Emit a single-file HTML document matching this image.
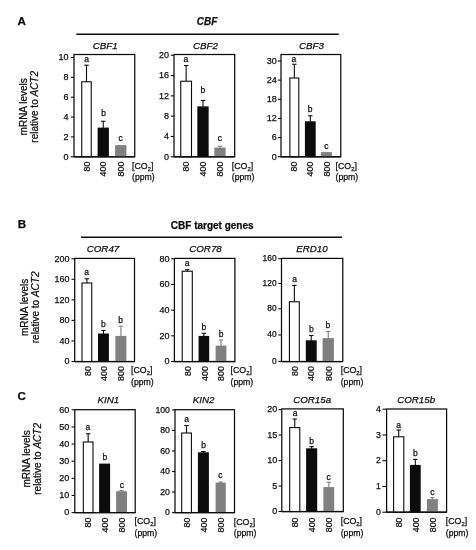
<!DOCTYPE html>
<html><head><meta charset="utf-8"><title>Figure</title>
<style>
html,body{margin:0;padding:0;background:#fff;}
svg{display:block;font-family:"Liberation Sans", Arial, sans-serif;filter:blur(0.35px);}
text{stroke:#141414;stroke-width:0.25px;}
</style></head>
<body>
<svg width="476" height="550" viewBox="0 0 476 550">
<rect x="0" y="0" width="476" height="550" fill="#fff"/>
<text x="17.6" y="25.3" font-size="11.6" font-weight="bold" fill="#0c0c0c">A</text>
<text x="207" y="25.2" font-size="10" font-weight="bold" font-style="italic" text-anchor="middle" fill="#0c0c0c">CBF</text>
<line x1="76.3" y1="34.3" x2="338.8" y2="34.3" stroke="#0c0c0c" stroke-width="1.5"/>
<text transform="translate(27.3,106.8) rotate(-90)" font-size="10" text-anchor="middle" fill="#0c0c0c">mRNA levels</text>
<text transform="translate(38.3,106.8) rotate(-90)" font-size="10" text-anchor="middle" fill="#0c0c0c">relative to <tspan font-style="italic">ACT2</tspan></text>
<rect x="74" y="54.5" width="60.75" height="102.25" fill="none" stroke="#0c0c0c" stroke-width="1.25"/>
<line x1="70.8" y1="156.75" x2="74" y2="156.75" stroke="#0c0c0c" stroke-width="1.1"/>
<text x="68.4" y="159.53" font-size="9.0" text-anchor="end" fill="#0c0c0c">0</text>
<line x1="70.8" y1="136.9" x2="74" y2="136.9" stroke="#0c0c0c" stroke-width="1.1"/>
<text x="68.4" y="139.68" font-size="9.0" text-anchor="end" fill="#0c0c0c">2</text>
<line x1="70.8" y1="117.05" x2="74" y2="117.05" stroke="#0c0c0c" stroke-width="1.1"/>
<text x="68.4" y="119.83" font-size="9.0" text-anchor="end" fill="#0c0c0c">4</text>
<line x1="70.8" y1="97.2" x2="74" y2="97.2" stroke="#0c0c0c" stroke-width="1.1"/>
<text x="68.4" y="99.98" font-size="9.0" text-anchor="end" fill="#0c0c0c">6</text>
<line x1="70.8" y1="77.35" x2="74" y2="77.35" stroke="#0c0c0c" stroke-width="1.1"/>
<text x="68.4" y="80.13" font-size="9.0" text-anchor="end" fill="#0c0c0c">8</text>
<line x1="70.8" y1="57.5" x2="74" y2="57.5" stroke="#0c0c0c" stroke-width="1.1"/>
<text x="68.4" y="60.28" font-size="9.0" text-anchor="end" fill="#0c0c0c">10</text>
<line x1="86.5" y1="81.75" x2="86.5" y2="65.2" stroke="#0c0c0c" stroke-width="1.1"/>
<line x1="84.3" y1="65.2" x2="88.7" y2="65.2" stroke="#0c0c0c" stroke-width="1.1"/>
<rect x="81.75" y="81.75" width="9.5" height="75.0" fill="#fff" stroke="#0c0c0c" stroke-width="1.1"/>
<line x1="103.25" y1="128" x2="103.25" y2="121.25" stroke="#0c0c0c" stroke-width="1.1"/>
<line x1="101.05" y1="121.25" x2="105.45" y2="121.25" stroke="#0c0c0c" stroke-width="1.1"/>
<rect x="97.6" y="127.6" width="11.3" height="29.15" fill="#0c0c0c"/>
<rect x="115.1" y="145.1" width="11.3" height="11.65" fill="#808080"/>
<line x1="74" y1="156.75" x2="134.75" y2="156.75" stroke="#0c0c0c" stroke-width="1.25"/>
<text x="86.5" y="61.5" font-size="8.5" text-anchor="middle" fill="#0c0c0c">a</text>
<text x="103.5" y="116.3" font-size="8.5" text-anchor="middle" fill="#0c0c0c">b</text>
<text x="120.7" y="141.4" font-size="8.5" text-anchor="middle" fill="#0c0c0c">c</text>
<text x="105.3" y="48.6" font-size="9.75" font-style="italic" text-anchor="middle" fill="#0c0c0c">CBF1</text>
<text transform="translate(89.6,161.7) rotate(-90)" font-size="8.8" text-anchor="end" fill="#0c0c0c">80</text>
<text transform="translate(106.35,161.7) rotate(-90)" font-size="8.8" text-anchor="end" fill="#0c0c0c">400</text>
<text transform="translate(123.85,161.7) rotate(-90)" font-size="8.8" text-anchor="end" fill="#0c0c0c">800</text>
<text x="132" y="168.5" font-size="8.8" fill="#0c0c0c">[CO<tspan font-size="5.8" dy="2.1">2</tspan><tspan dy="-2.1">]</tspan></text>
<text x="132" y="180.4" font-size="8.7" fill="#0c0c0c">(ppm)</text>
<rect x="174" y="54.5" width="60.69999999999999" height="102.25" fill="none" stroke="#0c0c0c" stroke-width="1.25"/>
<line x1="170.8" y1="156.75" x2="174" y2="156.75" stroke="#0c0c0c" stroke-width="1.1"/>
<text x="168.9" y="159.53" font-size="9.0" text-anchor="end" fill="#0c0c0c">0</text>
<line x1="170.8" y1="136.46" x2="174" y2="136.46" stroke="#0c0c0c" stroke-width="1.1"/>
<text x="168.9" y="139.24" font-size="9.0" text-anchor="end" fill="#0c0c0c">4</text>
<line x1="170.8" y1="116.17" x2="174" y2="116.17" stroke="#0c0c0c" stroke-width="1.1"/>
<text x="168.9" y="118.95" font-size="9.0" text-anchor="end" fill="#0c0c0c">8</text>
<line x1="170.8" y1="95.88" x2="174" y2="95.88" stroke="#0c0c0c" stroke-width="1.1"/>
<text x="168.9" y="98.66" font-size="9.0" text-anchor="end" fill="#0c0c0c">12</text>
<line x1="170.8" y1="75.59" x2="174" y2="75.59" stroke="#0c0c0c" stroke-width="1.1"/>
<text x="168.9" y="78.37" font-size="9.0" text-anchor="end" fill="#0c0c0c">16</text>
<line x1="170.8" y1="55.3" x2="174" y2="55.3" stroke="#0c0c0c" stroke-width="1.1"/>
<text x="168.9" y="58.08" font-size="9.0" text-anchor="end" fill="#0c0c0c">20</text>
<line x1="186.125" y1="81.25" x2="186.125" y2="65.5" stroke="#0c0c0c" stroke-width="1.1"/>
<line x1="183.925" y1="65.5" x2="188.325" y2="65.5" stroke="#0c0c0c" stroke-width="1.1"/>
<rect x="180.75" y="81.25" width="10.75" height="75.5" fill="#fff" stroke="#0c0c0c" stroke-width="1.1"/>
<line x1="203.0" y1="106.75" x2="203.0" y2="100.5" stroke="#0c0c0c" stroke-width="1.1"/>
<line x1="200.8" y1="100.5" x2="205.2" y2="100.5" stroke="#0c0c0c" stroke-width="1.1"/>
<rect x="197.35" y="106.35" width="11.3" height="50.4" fill="#0c0c0c"/>
<line x1="220.0" y1="148" x2="220.0" y2="146.25" stroke="#808080" stroke-width="1.1"/>
<line x1="217.8" y1="146.25" x2="222.2" y2="146.25" stroke="#808080" stroke-width="1.1"/>
<rect x="214.35" y="147.6" width="11.3" height="9.15" fill="#808080"/>
<line x1="174" y1="156.75" x2="234.7" y2="156.75" stroke="#0c0c0c" stroke-width="1.25"/>
<text x="185.9" y="61.8" font-size="8.5" text-anchor="middle" fill="#0c0c0c">a</text>
<text x="202.9" y="92.6" font-size="8.5" text-anchor="middle" fill="#0c0c0c">b</text>
<text x="219.9" y="141.4" font-size="8.5" text-anchor="middle" fill="#0c0c0c">c</text>
<text x="205.5" y="49" font-size="9.75" font-style="italic" text-anchor="middle" fill="#0c0c0c">CBF2</text>
<text transform="translate(189.225,161.7) rotate(-90)" font-size="8.8" text-anchor="end" fill="#0c0c0c">80</text>
<text transform="translate(206.1,161.7) rotate(-90)" font-size="8.8" text-anchor="end" fill="#0c0c0c">400</text>
<text transform="translate(223.1,161.7) rotate(-90)" font-size="8.8" text-anchor="end" fill="#0c0c0c">800</text>
<text x="231.8" y="168.5" font-size="8.8" fill="#0c0c0c">[CO<tspan font-size="5.8" dy="2.1">2</tspan><tspan dy="-2.1">]</tspan></text>
<text x="231.8" y="180.4" font-size="8.7" fill="#0c0c0c">(ppm)</text>
<rect x="281" y="54.5" width="59.80000000000001" height="102.25" fill="none" stroke="#0c0c0c" stroke-width="1.25"/>
<line x1="277.8" y1="156.75" x2="281" y2="156.75" stroke="#0c0c0c" stroke-width="1.1"/>
<text x="276.79999999999995" y="159.53" font-size="9.0" text-anchor="end" fill="#0c0c0c">0</text>
<line x1="277.8" y1="137.6" x2="281" y2="137.6" stroke="#0c0c0c" stroke-width="1.1"/>
<text x="276.79999999999995" y="140.38" font-size="9.0" text-anchor="end" fill="#0c0c0c">6</text>
<line x1="277.8" y1="118.45" x2="281" y2="118.45" stroke="#0c0c0c" stroke-width="1.1"/>
<text x="276.79999999999995" y="121.23" font-size="9.0" text-anchor="end" fill="#0c0c0c">12</text>
<line x1="277.8" y1="99.3" x2="281" y2="99.3" stroke="#0c0c0c" stroke-width="1.1"/>
<text x="276.79999999999995" y="102.08" font-size="9.0" text-anchor="end" fill="#0c0c0c">18</text>
<line x1="277.8" y1="80.15" x2="281" y2="80.15" stroke="#0c0c0c" stroke-width="1.1"/>
<text x="276.79999999999995" y="82.93" font-size="9.0" text-anchor="end" fill="#0c0c0c">24</text>
<line x1="277.8" y1="61.0" x2="281" y2="61.0" stroke="#0c0c0c" stroke-width="1.1"/>
<text x="276.79999999999995" y="63.78" font-size="9.0" text-anchor="end" fill="#0c0c0c">30</text>
<line x1="294.35" y1="78" x2="294.35" y2="64.25" stroke="#0c0c0c" stroke-width="1.1"/>
<line x1="292.15000000000003" y1="64.25" x2="296.55" y2="64.25" stroke="#0c0c0c" stroke-width="1.1"/>
<rect x="289.9" y="78" width="8.900000000000034" height="78.75" fill="#fff" stroke="#0c0c0c" stroke-width="1.1"/>
<line x1="310.3" y1="121.7" x2="310.3" y2="115.8" stroke="#0c0c0c" stroke-width="1.1"/>
<line x1="308.1" y1="115.8" x2="312.5" y2="115.8" stroke="#0c0c0c" stroke-width="1.1"/>
<rect x="304.90000000000003" y="121.3" width="10.8" height="35.449999999999996" fill="#0c0c0c"/>
<rect x="321.1" y="152.1" width="10.8" height="4.65" fill="#808080"/>
<line x1="281" y1="156.75" x2="340.8" y2="156.75" stroke="#0c0c0c" stroke-width="1.25"/>
<text x="293.9" y="61.8" font-size="8.5" text-anchor="middle" fill="#0c0c0c">a</text>
<text x="310.2" y="112" font-size="8.5" text-anchor="middle" fill="#0c0c0c">b</text>
<text x="326.4" y="149.2" font-size="8.5" text-anchor="middle" fill="#0c0c0c">c</text>
<text x="311.5" y="49" font-size="9.75" font-style="italic" text-anchor="middle" fill="#0c0c0c">CBF3</text>
<text transform="translate(297.45000000000005,161.7) rotate(-90)" font-size="8.8" text-anchor="end" fill="#0c0c0c">80</text>
<text transform="translate(313.40000000000003,161.7) rotate(-90)" font-size="8.8" text-anchor="end" fill="#0c0c0c">400</text>
<text transform="translate(329.6,161.7) rotate(-90)" font-size="8.8" text-anchor="end" fill="#0c0c0c">800</text>
<text x="335.5" y="168.5" font-size="8.8" fill="#0c0c0c">[CO<tspan font-size="5.8" dy="2.1">2</tspan><tspan dy="-2.1">]</tspan></text>
<text x="335.5" y="180.4" font-size="8.7" fill="#0c0c0c">(ppm)</text>
<text x="17.7" y="227.7" font-size="11.6" font-weight="bold" fill="#0c0c0c">B</text>
<text x="212.2" y="229.2" font-size="10" font-weight="bold" text-anchor="middle" fill="#0c0c0c">CBF target genes</text>
<line x1="81" y1="237.2" x2="342" y2="237.2" stroke="#0c0c0c" stroke-width="1.5"/>
<text transform="translate(27.5,307.4) rotate(-90)" font-size="10" text-anchor="middle" fill="#0c0c0c">mRNA levels</text>
<text transform="translate(38.6,307.4) rotate(-90)" font-size="10" text-anchor="middle" fill="#0c0c0c">relative to <tspan font-style="italic">ACT2</tspan></text>
<rect x="74.7" y="258.4" width="59.8" height="103.10000000000002" fill="none" stroke="#0c0c0c" stroke-width="1.25"/>
<line x1="71.5" y1="361.5" x2="74.7" y2="361.5" stroke="#0c0c0c" stroke-width="1.1"/>
<text x="69.60000000000001" y="364.28" font-size="9.0" text-anchor="end" fill="#0c0c0c">0</text>
<line x1="71.5" y1="340.95" x2="74.7" y2="340.95" stroke="#0c0c0c" stroke-width="1.1"/>
<text x="69.60000000000001" y="343.73" font-size="9.0" text-anchor="end" fill="#0c0c0c">40</text>
<line x1="71.5" y1="320.4" x2="74.7" y2="320.4" stroke="#0c0c0c" stroke-width="1.1"/>
<text x="69.60000000000001" y="323.18" font-size="9.0" text-anchor="end" fill="#0c0c0c">80</text>
<line x1="71.5" y1="299.85" x2="74.7" y2="299.85" stroke="#0c0c0c" stroke-width="1.1"/>
<text x="69.60000000000001" y="302.63" font-size="9.0" text-anchor="end" fill="#0c0c0c">120</text>
<line x1="71.5" y1="279.3" x2="74.7" y2="279.3" stroke="#0c0c0c" stroke-width="1.1"/>
<text x="69.60000000000001" y="282.08" font-size="9.0" text-anchor="end" fill="#0c0c0c">160</text>
<line x1="71.5" y1="258.75" x2="74.7" y2="258.75" stroke="#0c0c0c" stroke-width="1.1"/>
<text x="69.60000000000001" y="261.53" font-size="9.0" text-anchor="end" fill="#0c0c0c">200</text>
<line x1="86.875" y1="283" x2="86.875" y2="278.75" stroke="#0c0c0c" stroke-width="1.1"/>
<line x1="84.675" y1="278.75" x2="89.075" y2="278.75" stroke="#0c0c0c" stroke-width="1.1"/>
<rect x="82" y="283" width="9.75" height="78.5" fill="#fff" stroke="#0c0c0c" stroke-width="1.1"/>
<line x1="103.45" y1="333.9" x2="103.45" y2="330.4" stroke="#0c0c0c" stroke-width="1.1"/>
<line x1="101.25" y1="330.4" x2="105.65" y2="330.4" stroke="#0c0c0c" stroke-width="1.1"/>
<rect x="98.0" y="333.5" width="10.899999999999995" height="28.00000000000002" fill="#0c0c0c"/>
<line x1="120.9" y1="336.3" x2="120.9" y2="326.2" stroke="#808080" stroke-width="1.1"/>
<line x1="118.7" y1="326.2" x2="123.10000000000001" y2="326.2" stroke="#808080" stroke-width="1.1"/>
<rect x="115.39999999999999" y="335.90000000000003" width="11.000000000000004" height="25.599999999999987" fill="#808080"/>
<line x1="74.7" y1="361.5" x2="134.5" y2="361.5" stroke="#0c0c0c" stroke-width="1.25"/>
<text x="86.5" y="275.2" font-size="8.5" text-anchor="middle" fill="#0c0c0c">a</text>
<text x="103.3" y="327.2" font-size="8.5" text-anchor="middle" fill="#0c0c0c">b</text>
<text x="120.6" y="323" font-size="8.5" text-anchor="middle" fill="#0c0c0c">b</text>
<text x="103" y="252" font-size="9.75" font-style="italic" text-anchor="middle" fill="#0c0c0c">COR47</text>
<text transform="translate(90.57499999999999,366.2) rotate(-90)" font-size="8.8" text-anchor="end" fill="#0c0c0c">80</text>
<text transform="translate(107.14999999999999,366.2) rotate(-90)" font-size="8.8" text-anchor="end" fill="#0c0c0c">400</text>
<text transform="translate(124.1,366.2) rotate(-90)" font-size="8.8" text-anchor="end" fill="#0c0c0c">800</text>
<text x="131" y="373.2" font-size="8.8" fill="#0c0c0c">[CO<tspan font-size="5.8" dy="2.1">2</tspan><tspan dy="-2.1">]</tspan></text>
<text x="131" y="385.09999999999997" font-size="8.7" fill="#0c0c0c">(ppm)</text>
<rect x="174.4" y="258.4" width="60.5" height="103.10000000000002" fill="none" stroke="#0c0c0c" stroke-width="1.25"/>
<line x1="171.20000000000002" y1="361.5" x2="174.4" y2="361.5" stroke="#0c0c0c" stroke-width="1.1"/>
<text x="169.5" y="364.28" font-size="9.0" text-anchor="end" fill="#0c0c0c">0</text>
<line x1="171.20000000000002" y1="335.8125" x2="174.4" y2="335.8125" stroke="#0c0c0c" stroke-width="1.1"/>
<text x="169.5" y="338.59" font-size="9.0" text-anchor="end" fill="#0c0c0c">20</text>
<line x1="171.20000000000002" y1="310.125" x2="174.4" y2="310.125" stroke="#0c0c0c" stroke-width="1.1"/>
<text x="169.5" y="312.91" font-size="9.0" text-anchor="end" fill="#0c0c0c">40</text>
<line x1="171.20000000000002" y1="284.4375" x2="174.4" y2="284.4375" stroke="#0c0c0c" stroke-width="1.1"/>
<text x="169.5" y="287.22" font-size="9.0" text-anchor="end" fill="#0c0c0c">60</text>
<line x1="171.20000000000002" y1="258.75" x2="174.4" y2="258.75" stroke="#0c0c0c" stroke-width="1.1"/>
<text x="169.5" y="261.53" font-size="9.0" text-anchor="end" fill="#0c0c0c">80</text>
<line x1="187.25" y1="271.25" x2="187.25" y2="269.7" stroke="#0c0c0c" stroke-width="1.1"/>
<line x1="185.05" y1="269.7" x2="189.45" y2="269.7" stroke="#0c0c0c" stroke-width="1.1"/>
<rect x="182.2" y="271.25" width="10.100000000000023" height="90.25" fill="#fff" stroke="#0c0c0c" stroke-width="1.1"/>
<line x1="203.9" y1="336.3" x2="203.9" y2="333.3" stroke="#0c0c0c" stroke-width="1.1"/>
<line x1="201.70000000000002" y1="333.3" x2="206.1" y2="333.3" stroke="#0c0c0c" stroke-width="1.1"/>
<rect x="198.6" y="335.90000000000003" width="10.600000000000012" height="25.599999999999987" fill="#0c0c0c"/>
<line x1="221.0" y1="346" x2="221.0" y2="340" stroke="#808080" stroke-width="1.1"/>
<line x1="218.8" y1="340" x2="223.2" y2="340" stroke="#808080" stroke-width="1.1"/>
<rect x="215.6" y="345.6" width="10.8" height="15.9" fill="#808080"/>
<line x1="174.4" y1="361.5" x2="234.9" y2="361.5" stroke="#0c0c0c" stroke-width="1.25"/>
<text x="187.2" y="266.4" font-size="8.5" text-anchor="middle" fill="#0c0c0c">a</text>
<text x="203.8" y="330" font-size="8.5" text-anchor="middle" fill="#0c0c0c">b</text>
<text x="221.2" y="336.7" font-size="8.5" text-anchor="middle" fill="#0c0c0c">b</text>
<text x="205.5" y="252" font-size="9.75" font-style="italic" text-anchor="middle" fill="#0c0c0c">COR78</text>
<text transform="translate(190.85,366.2) rotate(-90)" font-size="8.8" text-anchor="end" fill="#0c0c0c">80</text>
<text transform="translate(207.7,366.2) rotate(-90)" font-size="8.8" text-anchor="end" fill="#0c0c0c">400</text>
<text transform="translate(224.29999999999998,366.2) rotate(-90)" font-size="8.8" text-anchor="end" fill="#0c0c0c">800</text>
<text x="230.5" y="373.2" font-size="8.8" fill="#0c0c0c">[CO<tspan font-size="5.8" dy="2.1">2</tspan><tspan dy="-2.1">]</tspan></text>
<text x="230.5" y="385.09999999999997" font-size="8.7" fill="#0c0c0c">(ppm)</text>
<rect x="281.5" y="258.4" width="61.30000000000001" height="103.10000000000002" fill="none" stroke="#0c0c0c" stroke-width="1.25"/>
<line x1="278.3" y1="361.4" x2="281.5" y2="361.4" stroke="#0c0c0c" stroke-width="1.1"/>
<text x="276.59999999999997" y="363.97" font-size="8.4" text-anchor="end" fill="#0c0c0c">0</text>
<line x1="278.3" y1="334.9" x2="281.5" y2="334.9" stroke="#0c0c0c" stroke-width="1.1"/>
<text x="276.59999999999997" y="337.47" font-size="8.4" text-anchor="end" fill="#0c0c0c">40</text>
<line x1="278.3" y1="308.8" x2="281.5" y2="308.8" stroke="#0c0c0c" stroke-width="1.1"/>
<text x="276.59999999999997" y="311.37" font-size="8.4" text-anchor="end" fill="#0c0c0c">80</text>
<line x1="278.3" y1="283.5" x2="281.5" y2="283.5" stroke="#0c0c0c" stroke-width="1.1"/>
<text x="276.59999999999997" y="286.07" font-size="8.4" text-anchor="end" fill="#0c0c0c">120</text>
<line x1="278.3" y1="258.7" x2="281.5" y2="258.7" stroke="#0c0c0c" stroke-width="1.1"/>
<text x="276.59999999999997" y="261.27" font-size="8.4" text-anchor="end" fill="#0c0c0c">160</text>
<line x1="294.35" y1="301.75" x2="294.35" y2="285.4" stroke="#0c0c0c" stroke-width="1.1"/>
<line x1="292.15000000000003" y1="285.4" x2="296.55" y2="285.4" stroke="#0c0c0c" stroke-width="1.1"/>
<rect x="289.4" y="301.75" width="9.900000000000034" height="59.75" fill="#fff" stroke="#0c0c0c" stroke-width="1.1"/>
<line x1="311.25" y1="340.7" x2="311.25" y2="335.5" stroke="#0c0c0c" stroke-width="1.1"/>
<line x1="309.05" y1="335.5" x2="313.45" y2="335.5" stroke="#0c0c0c" stroke-width="1.1"/>
<rect x="305.8" y="340.3" width="10.900000000000023" height="21.20000000000001" fill="#0c0c0c"/>
<line x1="328.25" y1="338.5" x2="328.25" y2="331.5" stroke="#808080" stroke-width="1.1"/>
<line x1="326.05" y1="331.5" x2="330.45" y2="331.5" stroke="#808080" stroke-width="1.1"/>
<rect x="322.6" y="338.1" width="11.3" height="23.4" fill="#808080"/>
<line x1="281.5" y1="361.5" x2="342.8" y2="361.5" stroke="#0c0c0c" stroke-width="1.25"/>
<text x="294.5" y="282" font-size="8.5" text-anchor="middle" fill="#0c0c0c">a</text>
<text x="311.3" y="331.6" font-size="8.5" text-anchor="middle" fill="#0c0c0c">b</text>
<text x="327.8" y="327.8" font-size="8.5" text-anchor="middle" fill="#0c0c0c">b</text>
<text x="311.9" y="252" font-size="9.75" font-style="italic" text-anchor="middle" fill="#0c0c0c">ERD10</text>
<text transform="translate(297.75000000000006,366.2) rotate(-90)" font-size="8.8" text-anchor="end" fill="#0c0c0c">80</text>
<text transform="translate(314.45000000000005,366.2) rotate(-90)" font-size="8.8" text-anchor="end" fill="#0c0c0c">400</text>
<text transform="translate(331.55,366.2) rotate(-90)" font-size="8.8" text-anchor="end" fill="#0c0c0c">800</text>
<text x="340.7" y="372.8" font-size="8.8" fill="#0c0c0c">[CO<tspan font-size="5.8" dy="2.1">2</tspan><tspan dy="-2.1">]</tspan></text>
<text x="340.7" y="384.7" font-size="8.7" fill="#0c0c0c">(ppm)</text>
<text x="17.5" y="400.3" font-size="11.6" font-weight="bold" fill="#0c0c0c">C</text>
<text transform="translate(30.0,458.9) rotate(-90)" font-size="10" text-anchor="middle" fill="#0c0c0c">mRNA levels</text>
<text transform="translate(41.1,458.9) rotate(-90)" font-size="10" text-anchor="middle" fill="#0c0c0c">relative to <tspan font-style="italic">ACT2</tspan></text>
<rect x="74.8" y="409.7" width="60.39999999999999" height="102.90000000000003" fill="none" stroke="#0c0c0c" stroke-width="1.25"/>
<line x1="71.6" y1="512.6" x2="74.8" y2="512.6" stroke="#0c0c0c" stroke-width="1.1"/>
<text x="69.2" y="515.38" font-size="9.0" text-anchor="end" fill="#0c0c0c">0</text>
<line x1="71.6" y1="495.4666666666667" x2="74.8" y2="495.4666666666667" stroke="#0c0c0c" stroke-width="1.1"/>
<text x="69.2" y="498.25" font-size="9.0" text-anchor="end" fill="#0c0c0c">10</text>
<line x1="71.6" y1="478.33333333333337" x2="74.8" y2="478.33333333333337" stroke="#0c0c0c" stroke-width="1.1"/>
<text x="69.2" y="481.12" font-size="9.0" text-anchor="end" fill="#0c0c0c">20</text>
<line x1="71.6" y1="461.20000000000005" x2="74.8" y2="461.20000000000005" stroke="#0c0c0c" stroke-width="1.1"/>
<text x="69.2" y="463.98" font-size="9.0" text-anchor="end" fill="#0c0c0c">30</text>
<line x1="71.6" y1="444.0666666666667" x2="74.8" y2="444.0666666666667" stroke="#0c0c0c" stroke-width="1.1"/>
<text x="69.2" y="446.85" font-size="9.0" text-anchor="end" fill="#0c0c0c">40</text>
<line x1="71.6" y1="426.93333333333334" x2="74.8" y2="426.93333333333334" stroke="#0c0c0c" stroke-width="1.1"/>
<text x="69.2" y="429.72" font-size="9.0" text-anchor="end" fill="#0c0c0c">50</text>
<line x1="71.6" y1="409.8" x2="74.8" y2="409.8" stroke="#0c0c0c" stroke-width="1.1"/>
<text x="69.2" y="412.58" font-size="9.0" text-anchor="end" fill="#0c0c0c">60</text>
<line x1="88.15" y1="442" x2="88.15" y2="433.8" stroke="#0c0c0c" stroke-width="1.1"/>
<line x1="85.95" y1="433.8" x2="90.35000000000001" y2="433.8" stroke="#0c0c0c" stroke-width="1.1"/>
<rect x="83.3" y="442" width="9.700000000000003" height="70.60000000000002" fill="#fff" stroke="#0c0c0c" stroke-width="1.1"/>
<rect x="99.1" y="463.6" width="11.000000000000004" height="49.00000000000002" fill="#0c0c0c"/>
<line x1="121.55" y1="491.6" x2="121.55" y2="490.6" stroke="#808080" stroke-width="1.1"/>
<line x1="119.35" y1="490.6" x2="123.75" y2="490.6" stroke="#808080" stroke-width="1.1"/>
<rect x="116.1" y="491.20000000000005" width="10.899999999999995" height="21.4" fill="#808080"/>
<line x1="74.8" y1="512.6" x2="135.2" y2="512.6" stroke="#0c0c0c" stroke-width="1.25"/>
<text x="87.9" y="430" font-size="8.5" text-anchor="middle" fill="#0c0c0c">a</text>
<text x="104.8" y="460.4" font-size="8.5" text-anchor="middle" fill="#0c0c0c">b</text>
<text x="121.8" y="487.9" font-size="8.5" text-anchor="middle" fill="#0c0c0c">c</text>
<text x="108.3" y="402.7" font-size="9.75" font-style="italic" text-anchor="middle" fill="#0c0c0c">KIN1</text>
<text transform="translate(91.35,517.7) rotate(-90)" font-size="8.8" text-anchor="end" fill="#0c0c0c">80</text>
<text transform="translate(107.89999999999999,517.7) rotate(-90)" font-size="8.8" text-anchor="end" fill="#0c0c0c">400</text>
<text transform="translate(124.85,517.7) rotate(-90)" font-size="8.8" text-anchor="end" fill="#0c0c0c">800</text>
<text x="134.5" y="524.3" font-size="8.8" fill="#0c0c0c">[CO<tspan font-size="5.8" dy="2.1">2</tspan><tspan dy="-2.1">]</tspan></text>
<text x="134.5" y="536.1999999999999" font-size="8.7" fill="#0c0c0c">(ppm)</text>
<rect x="175" y="409.7" width="59.5" height="102.90000000000003" fill="none" stroke="#0c0c0c" stroke-width="1.25"/>
<line x1="172.1" y1="512.6" x2="175" y2="512.6" stroke="#0c0c0c" stroke-width="1.1"/>
<text x="169.9" y="515.27" font-size="8.7" text-anchor="end" fill="#0c0c0c">0</text>
<line x1="172.1" y1="492.06" x2="175" y2="492.06" stroke="#0c0c0c" stroke-width="1.1"/>
<text x="169.9" y="494.73" font-size="8.7" text-anchor="end" fill="#0c0c0c">20</text>
<line x1="172.1" y1="471.52" x2="175" y2="471.52" stroke="#0c0c0c" stroke-width="1.1"/>
<text x="169.9" y="474.19" font-size="8.7" text-anchor="end" fill="#0c0c0c">40</text>
<line x1="172.1" y1="450.98" x2="175" y2="450.98" stroke="#0c0c0c" stroke-width="1.1"/>
<text x="169.9" y="453.65" font-size="8.7" text-anchor="end" fill="#0c0c0c">60</text>
<line x1="172.1" y1="430.44" x2="175" y2="430.44" stroke="#0c0c0c" stroke-width="1.1"/>
<text x="169.9" y="433.11" font-size="8.7" text-anchor="end" fill="#0c0c0c">80</text>
<line x1="172.1" y1="409.9" x2="175" y2="409.9" stroke="#0c0c0c" stroke-width="1.1"/>
<text x="169.9" y="412.57" font-size="8.7" text-anchor="end" fill="#0c0c0c">100</text>
<line x1="186.55" y1="433" x2="186.55" y2="425.5" stroke="#0c0c0c" stroke-width="1.1"/>
<line x1="184.35000000000002" y1="425.5" x2="188.75" y2="425.5" stroke="#0c0c0c" stroke-width="1.1"/>
<rect x="181.7" y="433" width="9.700000000000017" height="79.60000000000002" fill="#fff" stroke="#0c0c0c" stroke-width="1.1"/>
<line x1="203.4" y1="452.7" x2="203.4" y2="451.5" stroke="#0c0c0c" stroke-width="1.1"/>
<line x1="201.20000000000002" y1="451.5" x2="205.6" y2="451.5" stroke="#0c0c0c" stroke-width="1.1"/>
<rect x="197.9" y="452.3" width="10.99999999999999" height="60.30000000000003" fill="#0c0c0c"/>
<line x1="220.7" y1="483" x2="220.7" y2="482" stroke="#808080" stroke-width="1.1"/>
<line x1="218.5" y1="482" x2="222.89999999999998" y2="482" stroke="#808080" stroke-width="1.1"/>
<rect x="215.6" y="482.6" width="10.200000000000006" height="30.00000000000002" fill="#808080"/>
<line x1="175" y1="512.6" x2="234.5" y2="512.6" stroke="#0c0c0c" stroke-width="1.25"/>
<text x="186.5" y="422.2" font-size="8.5" text-anchor="middle" fill="#0c0c0c">a</text>
<text x="203.6" y="447.8" font-size="8.5" text-anchor="middle" fill="#0c0c0c">b</text>
<text x="220.3" y="477.9" font-size="8.5" text-anchor="middle" fill="#0c0c0c">c</text>
<text x="203.6" y="402.7" font-size="9.75" font-style="italic" text-anchor="middle" fill="#0c0c0c">KIN2</text>
<text transform="translate(189.95000000000002,517.7) rotate(-90)" font-size="8.8" text-anchor="end" fill="#0c0c0c">80</text>
<text transform="translate(206.6,517.7) rotate(-90)" font-size="8.8" text-anchor="end" fill="#0c0c0c">400</text>
<text transform="translate(223.79999999999998,517.7) rotate(-90)" font-size="8.8" text-anchor="end" fill="#0c0c0c">800</text>
<text x="233.8" y="524.5" font-size="8.8" fill="#0c0c0c">[CO<tspan font-size="5.8" dy="2.1">2</tspan><tspan dy="-2.1">]</tspan></text>
<text x="233.8" y="536.4" font-size="8.7" fill="#0c0c0c">(ppm)</text>
<rect x="281.8" y="408.9" width="61.5" height="102.60000000000002" fill="none" stroke="#0c0c0c" stroke-width="1.25"/>
<line x1="278.6" y1="511.5" x2="281.8" y2="511.5" stroke="#0c0c0c" stroke-width="1.1"/>
<text x="277.2" y="514.28" font-size="9.0" text-anchor="end" fill="#0c0c0c">0</text>
<line x1="278.6" y1="486.025" x2="281.8" y2="486.025" stroke="#0c0c0c" stroke-width="1.1"/>
<text x="277.2" y="488.81" font-size="9.0" text-anchor="end" fill="#0c0c0c">5</text>
<line x1="278.6" y1="460.55" x2="281.8" y2="460.55" stroke="#0c0c0c" stroke-width="1.1"/>
<text x="277.2" y="463.33" font-size="9.0" text-anchor="end" fill="#0c0c0c">10</text>
<line x1="278.6" y1="435.07500000000005" x2="281.8" y2="435.07500000000005" stroke="#0c0c0c" stroke-width="1.1"/>
<text x="277.2" y="437.86" font-size="9.0" text-anchor="end" fill="#0c0c0c">15</text>
<line x1="278.6" y1="409.6" x2="281.8" y2="409.6" stroke="#0c0c0c" stroke-width="1.1"/>
<text x="277.2" y="412.38" font-size="9.0" text-anchor="end" fill="#0c0c0c">20</text>
<line x1="294.75" y1="427.6" x2="294.75" y2="419" stroke="#0c0c0c" stroke-width="1.1"/>
<line x1="292.55" y1="419" x2="296.95" y2="419" stroke="#0c0c0c" stroke-width="1.1"/>
<rect x="289.7" y="427.6" width="10.100000000000023" height="83.89999999999998" fill="#fff" stroke="#0c0c0c" stroke-width="1.1"/>
<line x1="311.65" y1="448.7" x2="311.65" y2="446.6" stroke="#0c0c0c" stroke-width="1.1"/>
<line x1="309.45" y1="446.6" x2="313.84999999999997" y2="446.6" stroke="#0c0c0c" stroke-width="1.1"/>
<rect x="306.1" y="448.3" width="11.100000000000012" height="63.20000000000001" fill="#0c0c0c"/>
<line x1="328.8" y1="487.5" x2="328.8" y2="482.3" stroke="#808080" stroke-width="1.1"/>
<line x1="326.6" y1="482.3" x2="331.0" y2="482.3" stroke="#808080" stroke-width="1.1"/>
<rect x="323.40000000000003" y="487.1" width="10.8" height="24.4" fill="#808080"/>
<line x1="281.8" y1="511.5" x2="343.3" y2="511.5" stroke="#0c0c0c" stroke-width="1.25"/>
<text x="295" y="416" font-size="8.5" text-anchor="middle" fill="#0c0c0c">a</text>
<text x="311.6" y="444.1" font-size="8.5" text-anchor="middle" fill="#0c0c0c">b</text>
<text x="328.6" y="479.6" font-size="8.5" text-anchor="middle" fill="#0c0c0c">c</text>
<text x="312.1" y="402.7" font-size="9.75" font-style="italic" text-anchor="middle" fill="#0c0c0c">COR15a</text>
<text transform="translate(297.95000000000005,517.5) rotate(-90)" font-size="8.8" text-anchor="end" fill="#0c0c0c">80</text>
<text transform="translate(314.95,517.5) rotate(-90)" font-size="8.8" text-anchor="end" fill="#0c0c0c">400</text>
<text transform="translate(332.3,517.5) rotate(-90)" font-size="8.8" text-anchor="end" fill="#0c0c0c">800</text>
<text x="340.7" y="523.7" font-size="8.8" fill="#0c0c0c">[CO<tspan font-size="5.8" dy="2.1">2</tspan><tspan dy="-2.1">]</tspan></text>
<text x="340.7" y="535.6" font-size="8.7" fill="#0c0c0c">(ppm)</text>
<rect x="386.6" y="409" width="60.0" height="103.20000000000005" fill="none" stroke="#0c0c0c" stroke-width="1.25"/>
<line x1="382.40000000000003" y1="512.2" x2="386.6" y2="512.2" stroke="#0c0c0c" stroke-width="1.1"/>
<text x="380.8" y="514.87" font-size="8.7" text-anchor="end" fill="#0c0c0c">0</text>
<line x1="382.40000000000003" y1="486.45000000000005" x2="386.6" y2="486.45000000000005" stroke="#0c0c0c" stroke-width="1.1"/>
<text x="380.8" y="489.12" font-size="8.7" text-anchor="end" fill="#0c0c0c">1</text>
<line x1="382.40000000000003" y1="460.70000000000005" x2="386.6" y2="460.70000000000005" stroke="#0c0c0c" stroke-width="1.1"/>
<text x="380.8" y="463.37" font-size="8.7" text-anchor="end" fill="#0c0c0c">2</text>
<line x1="382.40000000000003" y1="434.95" x2="386.6" y2="434.95" stroke="#0c0c0c" stroke-width="1.1"/>
<text x="380.8" y="437.62" font-size="8.7" text-anchor="end" fill="#0c0c0c">3</text>
<line x1="382.40000000000003" y1="409.2" x2="386.6" y2="409.2" stroke="#0c0c0c" stroke-width="1.1"/>
<text x="380.8" y="411.87" font-size="8.7" text-anchor="end" fill="#0c0c0c">4</text>
<line x1="398.70000000000005" y1="436.8" x2="398.70000000000005" y2="430" stroke="#0c0c0c" stroke-width="1.1"/>
<line x1="396.50000000000006" y1="430" x2="400.90000000000003" y2="430" stroke="#0c0c0c" stroke-width="1.1"/>
<rect x="393.6" y="436.8" width="10.199999999999989" height="75.40000000000003" fill="#fff" stroke="#0c0c0c" stroke-width="1.1"/>
<line x1="415.3" y1="465.3" x2="415.3" y2="459.4" stroke="#0c0c0c" stroke-width="1.1"/>
<line x1="413.1" y1="459.4" x2="417.5" y2="459.4" stroke="#0c0c0c" stroke-width="1.1"/>
<rect x="409.90000000000003" y="464.90000000000003" width="10.8" height="47.30000000000003" fill="#0c0c0c"/>
<line x1="432.4" y1="499.5" x2="432.4" y2="497.6" stroke="#808080" stroke-width="1.1"/>
<line x1="430.2" y1="497.6" x2="434.59999999999997" y2="497.6" stroke="#808080" stroke-width="1.1"/>
<rect x="426.90000000000003" y="499.1" width="10.99999999999999" height="13.100000000000046" fill="#808080"/>
<line x1="386.6" y1="512.2" x2="446.6" y2="512.2" stroke="#0c0c0c" stroke-width="1.25"/>
<text x="398.6" y="427.5" font-size="8.5" text-anchor="middle" fill="#0c0c0c">a</text>
<text x="415.3" y="456.3" font-size="8.5" text-anchor="middle" fill="#0c0c0c">b</text>
<text x="432.3" y="494.9" font-size="8.5" text-anchor="middle" fill="#0c0c0c">c</text>
<text x="416.1" y="402.7" font-size="9.75" font-style="italic" text-anchor="middle" fill="#0c0c0c">COR15b</text>
<text transform="translate(401.9000000000001,517.5) rotate(-90)" font-size="8.8" text-anchor="end" fill="#0c0c0c">80</text>
<text transform="translate(418.70000000000005,517.5) rotate(-90)" font-size="8.8" text-anchor="end" fill="#0c0c0c">400</text>
<text transform="translate(436.0,517.5) rotate(-90)" font-size="8.8" text-anchor="end" fill="#0c0c0c">800</text>
<text x="445.8" y="523.7" font-size="8.8" fill="#0c0c0c">[CO<tspan font-size="5.8" dy="2.1">2</tspan><tspan dy="-2.1">]</tspan></text>
<text x="445.8" y="535.6" font-size="8.7" fill="#0c0c0c">(ppm)</text>
</svg>
</body></html>
